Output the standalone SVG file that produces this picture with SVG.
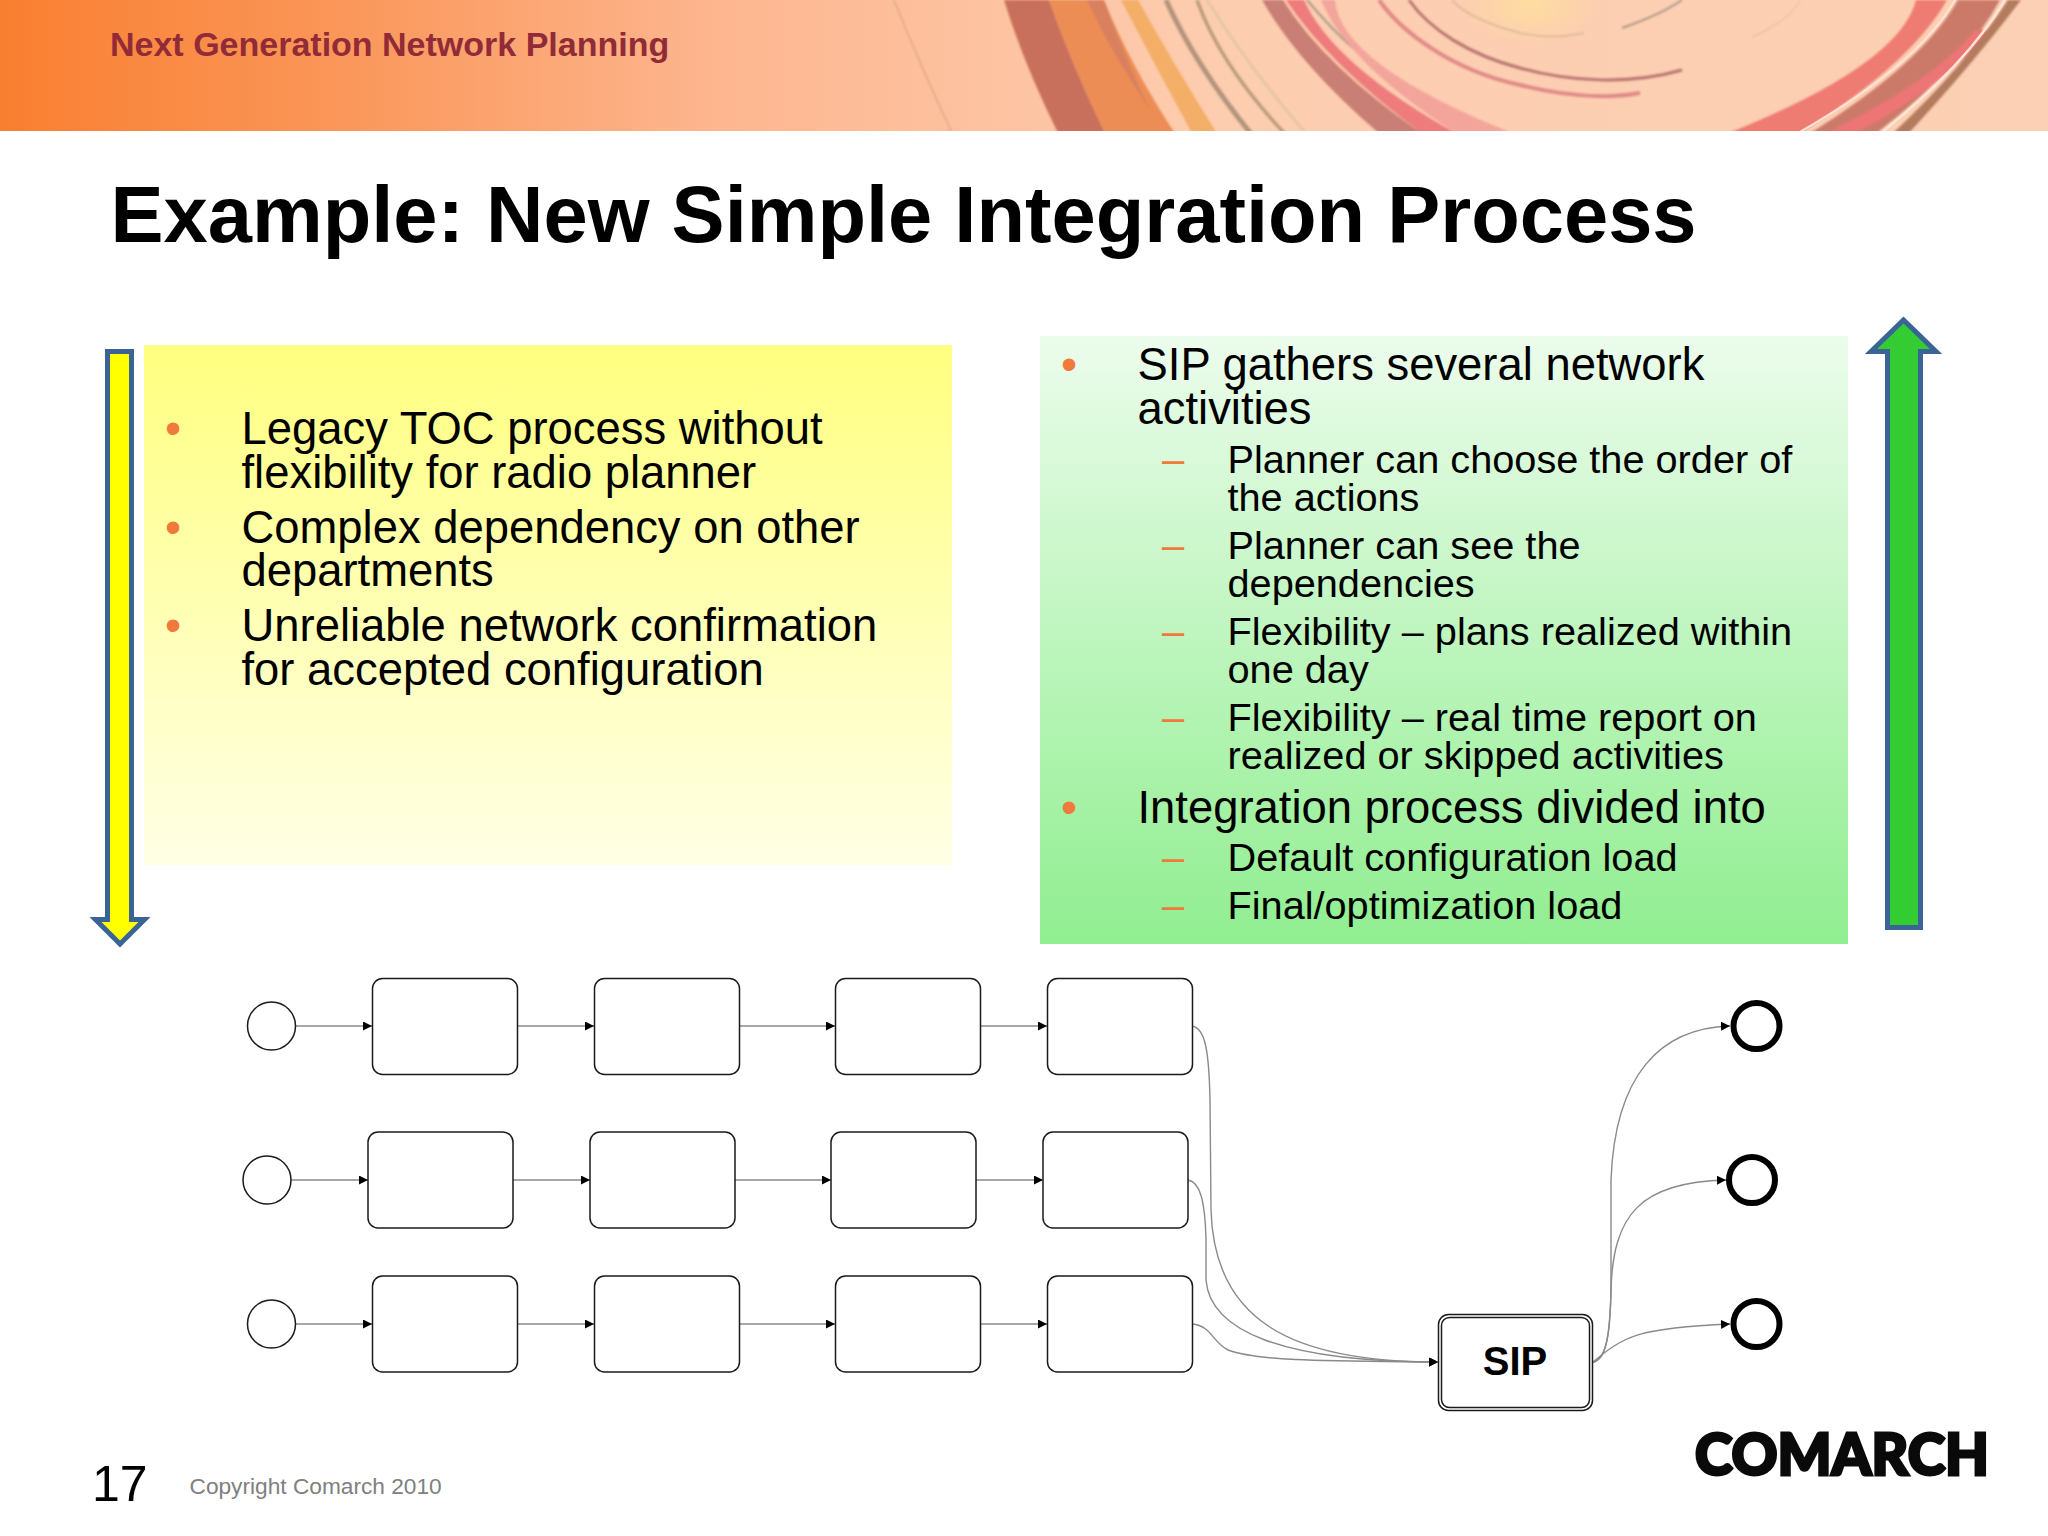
<svg xmlns="http://www.w3.org/2000/svg" width="2048" height="1536" viewBox="0 0 2048 1536">
<style>
text{font-family:"Liberation Sans",Arial,sans-serif}
.t{font-size:45.4px;fill:#000}
.s{font-size:39.7px;fill:#000}
.b{font-size:46px;fill:#f07a3c}
.d{font-size:40px;fill:#f07a3c}
.box{fill:#fff;stroke:#1a1a1a;stroke-width:1.5}
.st{fill:#fff;stroke:#1a1a1a;stroke-width:1.5}
.en{fill:#fff;stroke:#000;stroke-width:6}
.c{fill:none;stroke:#8a8a8a;stroke-width:1.4}
.arrow{marker-end:url(#ah)}
</style>
<defs>
<linearGradient id="hd" x1="0" y1="0" x2="1" y2="0">
<stop offset="0" stop-color="#f97f30"/><stop offset=".15" stop-color="#fa9455"/><stop offset=".35" stop-color="#fdb68f"/><stop offset=".6" stop-color="#fdcdb0"/><stop offset="1" stop-color="#fcd0b4"/>
</linearGradient>
<radialGradient id="glow"><stop offset="0" stop-color="#fde09a" stop-opacity=".8"/><stop offset="1" stop-color="#fde09a" stop-opacity="0"/></radialGradient>
<linearGradient id="yl" x1="0" y1="0" x2="0" y2="1"><stop offset="0" stop-color="#ffff80"/><stop offset="1" stop-color="#ffffe6"/></linearGradient>
<linearGradient id="gr" x1="0" y1="0" x2="0" y2="1"><stop offset="0" stop-color="#ecfcec"/><stop offset="1" stop-color="#90ee90"/></linearGradient>
<marker id="ah" markerUnits="userSpaceOnUse" markerWidth="10" markerHeight="10" refX="9" refY="4.5" orient="auto"><path d="M0 0L9 4.5L0 9Z" fill="#000"/></marker>
<clipPath id="hc"><rect width="2048" height="131"/></clipPath>
<filter id="bl" x="-5%" y="-5%" width="110%" height="110%"><feGaussianBlur stdDeviation="1"/></filter>
</defs>
<rect width="2048" height="1536" fill="#fff"/>
<g id="header">
<rect width="2048" height="131" fill="url(#hd)"/>
<g clip-path="url(#hc)">
<g filter="url(#bl)">
<ellipse cx="1530" cy="5" rx="70" ry="40" fill="url(#glow)"/>
<path d="M894 0Q920 65 953 135" fill="none" stroke="#dca88c" stroke-width="1.5"/>
<path d="M1004 0L1049 0Q1072 65 1106 135L1059 135Q1024 65 1004 0Z" fill="#c96f5c"/>
<path d="M1049 0L1104 0Q1130 65 1176 135L1106 135Q1072 65 1049 0Z" fill="#ec8d55"/>
<path d="M1087 0L1104 0Q1128 65 1150 110Q1110 50 1087 0Z" fill="#d9805f"/>
<path d="M1121 0L1138 0Q1174 65 1218 135L1193 135Q1155 65 1121 0Z" fill="#f3ae68"/>
<path d="M1166 0Q1195 65 1252 135" fill="none" stroke="#b3947c" stroke-width="5"/>
<path d="M1197 0Q1220 65 1286 135" fill="none" stroke="#b99c7a" stroke-width="3.5"/>
<path d="M1207 0Q1247 65 1307 135" fill="none" stroke="#e6c6a4" stroke-width="3"/>
<path d="M1262 0L1283 0Q1323 65 1424 135L1381 135Q1299 65 1262 0Z" fill="#c97f74"/>
<path d="M1286 0L1304 0Q1333 65 1459 135L1424 135Q1329 65 1286 0Z" fill="#ee7c7c"/>
<path d="M1307 0Q1345 45 1375 65" fill="none" stroke="#a89a8a" stroke-width="2"/>
<path d="M1321 0L1335 0Q1340 65 1517 135L1459 135Q1348 65 1321 0Z" fill="#f3a59b"/>
<path d="M1379 0C1400 30 1450 70 1520 85C1560 95 1600 100 1640 93" fill="none" stroke="#e08a86" stroke-width="4"/>
<path d="M1409 0C1430 30 1470 55 1520 68C1570 82 1630 85 1682 70" fill="none" stroke="#b87470" stroke-width="3"/>
<path d="M1452 0C1465 15 1490 25 1520 33Q1552 40 1584 33" fill="none" stroke="#e0bc9c" stroke-width="2"/>
<path d="M1682 0Q1660 15 1622 28" fill="none" stroke="#a99583" stroke-width="2"/>
<path d="M1800 0Q1790 20 1752 37" fill="none" stroke="#e6c3a8" stroke-width="1.5"/>
<path d="M1916 0L1947 0Q1910 65 1797 135L1724 135Q1900 65 1916 0Z" fill="#ef7b73"/>
<path d="M1958 0L2000 0Q1965 65 1874 135L1807 135Q1921 65 1958 0Z" fill="#cb7a6a"/>
<path d="M1975 30L1990 30Q1945 85 1860 131L1830 131Q1935 80 1975 30Z" fill="#ee7474"/>
<path d="M2008 0L2021 0Q1972 65 1907 135L1891 135Q1966 65 2008 0Z" fill="#b47c5e"/>
</g>
<path d="M1955 0Q1918 65 1798 133" fill="none" stroke="#ffe3d4" stroke-width="2"/>
<path d="M2005 0Q1966 65 1881 133" fill="none" stroke="#ffe3d4" stroke-width="2.500"/>
</g>
<text x="110" y="56" font-size="34" font-weight="700" fill="#912b38">Next Generation Network Planning</text>
</g>
<text id="title" x="110.500" y="242" font-size="79.500" font-weight="700" fill="#000">Example: New Simple Integration Process</text>

<g id="left-panel">
<rect x="144" y="345" width="808" height="520" fill="url(#yl)"/>
<text class="b" x="165" y="444">•</text><text class="t" x="241.500" y="444">Legacy TOC process without</text>
<text class="t" x="241.500" y="488">flexibility for radio planner</text>
<text class="b" x="165" y="543">•</text><text class="t" x="241.500" y="543">Complex dependency on other</text>
<text class="t" x="241.500" y="586">departments</text>
<text class="b" x="165" y="641">•</text><text class="t" x="241.500" y="641">Unreliable network confirmation</text>
<text class="t" x="241.500" y="685">for accepted configuration</text>
</g>
<g id="right-panel">
<rect x="1040" y="336" width="808" height="608" fill="url(#gr)"/>
<text class="b" x="1061" y="380">•</text><text class="t" x="1137.500" y="380">SIP gathers several network</text>
<text class="t" x="1137.500" y="424">activities</text>
<text class="d" x="1162" y="473">–</text><text class="s" x="1227.500" y="473">Planner can choose the order of</text>
<text class="s" x="1227.500" y="511">the actions</text>
<text class="d" x="1162" y="559">–</text><text class="s" x="1227.500" y="559">Planner can see the</text>
<text class="s" x="1227.500" y="597">dependencies</text>
<text class="d" x="1162" y="645">–</text><text class="s" x="1227.500" y="645">Flexibility – plans realized within</text>
<text class="s" x="1227.500" y="683">one day</text>
<text class="d" x="1162" y="731">–</text><text class="s" x="1227.500" y="731">Flexibility – real time report on</text>
<text class="s" x="1227.500" y="769">realized or skipped activities</text>
<text class="b" x="1061" y="823">•</text><text class="t" x="1137.500" y="823">Integration process divided into</text>
<text class="d" x="1162" y="871">–</text><text class="s" x="1227.500" y="871">Default configuration load</text>
<text class="d" x="1162" y="919">–</text><text class="s" x="1227.500" y="919">Final/optimization load</text>
</g>
<polygon id="arrow-down" points="107.500,351.500 131.500,351.500 131.500,919.500 144.500,919.500 120,944 95.500,919.500 107.500,919.500" fill="#ffff00" stroke="#3b6496" stroke-width="5"/>
<polygon id="arrow-up" points="1887.500,927.500 1920.500,927.500 1920.500,351.500 1936,351.500 1903.500,320 1871,351.500 1887.500,351.500" fill="#33cc33" stroke="#3b6496" stroke-width="5"/>

<g id="connectors">
<path class="c arrow" d="M295.500 1026H372"/><path class="c arrow" d="M517 1026H594"/><path class="c arrow" d="M739 1026H835"/><path class="c arrow" d="M980 1026H1047"/>
<path class="c arrow" d="M291 1180H368"/><path class="c arrow" d="M513 1180H590"/><path class="c arrow" d="M735 1180H831"/><path class="c arrow" d="M976 1180H1043"/>
<path class="c arrow" d="M295.500 1324H372"/><path class="c arrow" d="M517 1324H594"/><path class="c arrow" d="M739 1324H835"/><path class="c arrow" d="M980 1324H1047"/>
<path class="c arrow" d="M1192 1026C1205 1028 1209 1050 1210 1100L1211 1210C1214 1320 1290 1362 1438 1362"/>
<path class="c arrow" d="M1188 1180C1200 1182 1205 1200 1206 1240L1206 1280C1210 1330 1280 1362 1438 1362"/>
<path class="c arrow" d="M1192 1324C1212 1326 1212 1342 1228 1350C1260 1362 1340 1361 1438 1362"/>
<path class="c arrow" d="M1593 1362C1605 1360 1610 1340 1611 1290L1611 1180C1615 1075 1660 1028 1730 1026"/>
<path class="c arrow" d="M1593 1362C1605 1360 1610 1340 1611 1290C1613 1215 1640 1182 1726 1180"/>
<path class="c arrow" d="M1593 1362C1625 1335 1640 1328 1730 1324"/>
</g>

<g id="start-1"><circle class="st" cx="271.500" cy="1026" r="24"/></g>
<g id="r1-1"><rect class="box" x="372.500" y="978.500" width="145" height="96" rx="10"/></g>
<g id="r1-2"><rect class="box" x="594.500" y="978.500" width="145" height="96" rx="10"/></g>
<g id="r1-3"><rect class="box" x="835.500" y="978.500" width="145" height="96" rx="10"/></g>
<g id="r1-4"><rect class="box" x="1047.500" y="978.500" width="145" height="96" rx="10"/></g>
<g id="start-2"><circle class="st" cx="267" cy="1180" r="24"/></g>
<g id="r2-1"><rect class="box" x="368" y="1132" width="145" height="96" rx="10"/></g>
<g id="r2-2"><rect class="box" x="590" y="1132" width="145" height="96" rx="10"/></g>
<g id="r2-3"><rect class="box" x="831" y="1132" width="145" height="96" rx="10"/></g>
<g id="r2-4"><rect class="box" x="1043" y="1132" width="145" height="96" rx="10"/></g>
<g id="start-3"><circle class="st" cx="271.500" cy="1324" r="24"/></g>
<g id="r3-1"><rect class="box" x="372.500" y="1276" width="145" height="96" rx="10"/></g>
<g id="r3-2"><rect class="box" x="594.500" y="1276" width="145" height="96" rx="10"/></g>
<g id="r3-3"><rect class="box" x="835.500" y="1276" width="145" height="96" rx="10"/></g>
<g id="r3-4"><rect class="box" x="1047.500" y="1276" width="145" height="96" rx="10"/></g>
<g id="sip">
<rect class="box" x="1438.500" y="1314.500" width="154" height="96" rx="10"/>
<rect class="box" x="1441.500" y="1317.500" width="148" height="90" rx="8"/>
<text x="1515" y="1375" font-size="40" font-weight="700" text-anchor="middle" fill="#000">SIP</text>
</g>
<g id="end-1"><circle class="en" cx="1756.500" cy="1026" r="23"/></g>
<g id="end-2"><circle class="en" cx="1752" cy="1180" r="23"/></g>
<g id="end-3"><circle class="en" cx="1756.500" cy="1324" r="23"/></g>

<text id="page" x="92" y="1501" font-size="50" fill="#000">17</text>
<text id="copy" x="189.500" y="1494" font-size="22.700" fill="#808080">Copyright Comarch 2010</text>
<text id="logo" x="1695" y="1475" font-size="58" font-weight="900" fill="#0a0a0a" stroke="#0a0a0a" stroke-width="3" style="font-family:Lato,'Liberation Sans',sans-serif" textLength="294" lengthAdjust="spacingAndGlyphs">COMARCH</text>
</svg>
